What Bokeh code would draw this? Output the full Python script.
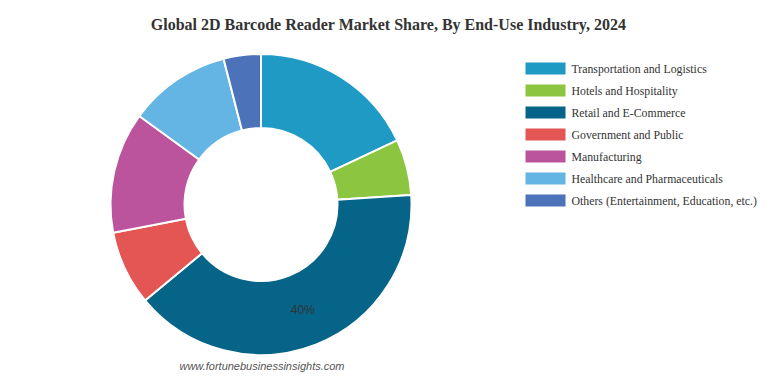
import numpy as np
from bokeh.plotting import figure
from bokeh.models import Range1d, ColumnDataSource
from bokeh.core.properties import value
from bokeh.embed import file_html
from bokeh.resources import INLINE

title = "Global 2D Barcode Reader Market Share, By End-Use Industry, 2024"
categories = ["Transportation and Logistics", "Hotels and Hospitality", "Retail and E-Commerce",
              "Government and Public", "Manufacturing", "Healthcare and Pharmaceuticals",
              "Others (Entertainment, Education, etc.)"]
shares = [18, 6, 40, 8, 13, 11, 4]
colors = ["#1f9ac4", "#8cc540", "#066489", "#e35653", "#bb549d", "#64b4e4", "#4c73b9"]
shown_labels = ["", "", "40%", "", "", "", ""]
footer = "www.fortunebusinessinsights.com"

W, H = 760, 372
p = figure(width=W, height=H, output_backend="svg", toolbar_location=None,
           x_range=Range1d(0, W), y_range=Range1d(0, H), min_border=0)
p.axis.visible = False
p.grid.visible = False
p.outline_line_color = None

cx, cy = 260.5, H - 204
r_out, r_in = 150.5, 76.5

vals = np.array(shares, dtype=float)
frac = vals / vals.sum()
cum = np.concatenate([[0], np.cumsum(frac)])
start = np.pi / 2 - cum[:-1] * 2 * np.pi
end = np.pi / 2 - cum[1:] * 2 * np.pi
src = ColumnDataSource(dict(start=start, end=end, color=colors))
p.annular_wedge(x=cx, y=cy, inner_radius=r_in, outer_radius=r_out,
                start_angle="start", end_angle="end", direction="clock",
                fill_color="color", line_color="white", line_width=2, source=src)

mid = (start + end) / 2
rm = (r_in + r_out) / 2
lx = cx + rm * np.cos(mid)
ly = cy + rm * np.sin(mid)
p.text(x=lx, y=ly, text=shown_labels, text_align="center", text_baseline="middle",
       text_font=value("Liberation Sans"), text_font_size="12px", text_color="#333333")

# title
p.text(x=[388], y=[H - 24], text=[title], text_align="center", text_baseline="middle",
       text_font=value("Liberation Serif"), text_font_style="bold", text_font_size="16px",
       text_color="#333333")

# legend
n = len(categories)
ly0 = np.array([H - 68 - 22 * i for i in range(n)], dtype=float)
p.rect(x=[545] * n, y=ly0, width=40, height=12, fill_color=colors, line_color=None)
p.text(x=[571] * n, y=ly0, text=categories, text_align="left", text_baseline="middle",
       text_font=value("Liberation Serif"), text_font_size="11.8px", text_color="#333333")

# footer
p.text(x=[261.5], y=[H - 365], text=[footer], text_align="center", text_baseline="middle",
       text_font=value("Liberation Sans"), text_font_style="italic", text_font_size="11px",
       text_color="#555555")

open("out.html", "w").write(file_html(p, INLINE))
